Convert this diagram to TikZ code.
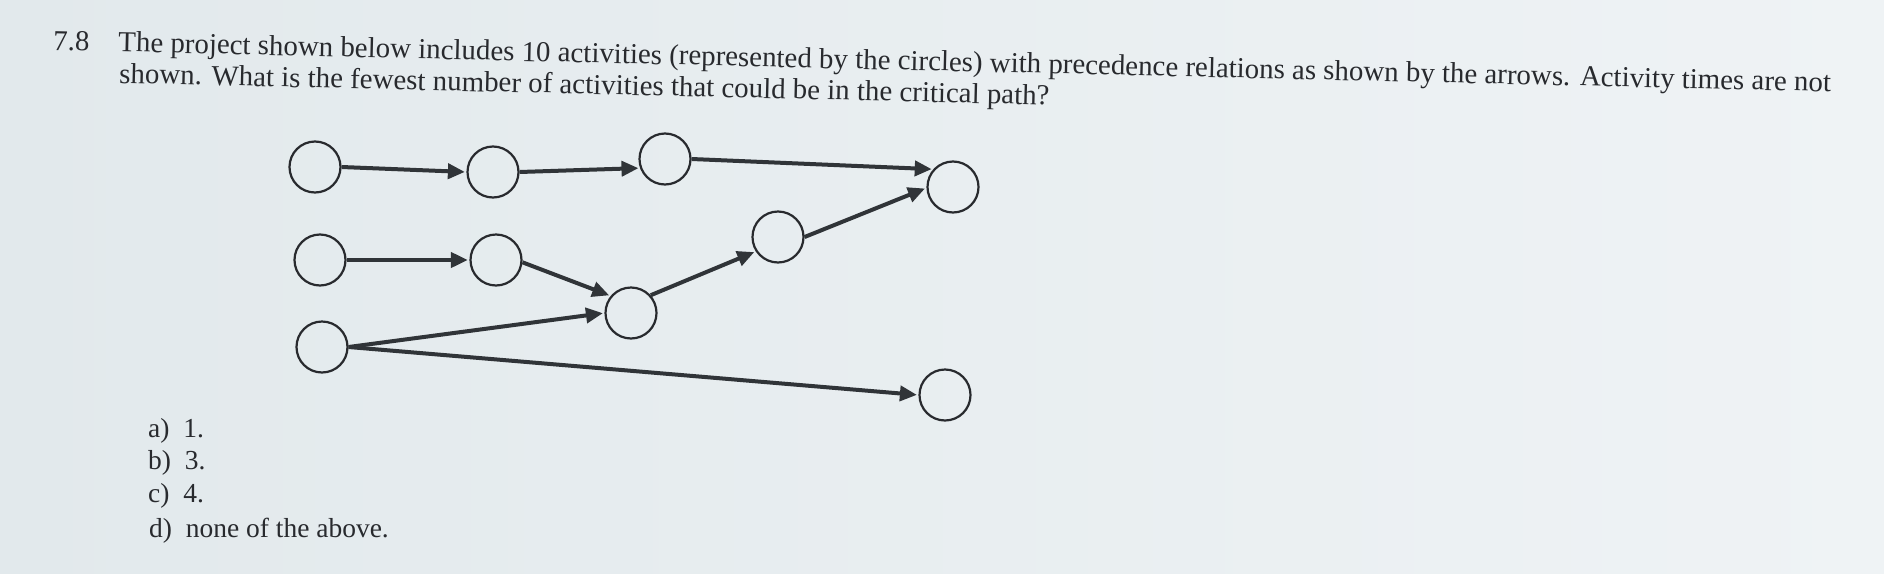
\documentclass[tikz,border=0pt]{standalone}
\usepackage{fontspec}
\setmainfont{Liberation Serif}
\usetikzlibrary{arrows.meta}
\definecolor{bgleft}{RGB}{226,233,236}
\definecolor{bgright}{RGB}{239,243,245}
\definecolor{ink}{RGB}{40,42,46}
\definecolor{lineink}{RGB}{48,52,56}
\newlength\Lone
\newlength\Ltwo
\tikzset{
  act/.style={circle, draw=ink, line width=2.2pt, minimum size=51pt, inner sep=0pt},
  arr/.style={draw=lineink, line width=4pt, -{Triangle[length=17pt,width=15pt]}, shorten >=1.5pt},
  qtext/.style={anchor=base west, inner sep=0pt, text=ink, rotate=-1.35},
  atext/.style={anchor=base west, inner sep=0pt, text=ink}
}
\begin{document}
\settowidth\Lone{\fontsize{20pt}{24pt}\selectfont The project shown below includes 10 activities (represented by the circles) with precedence relations as shown by the arrows. Activity times are not}%
\settowidth\Ltwo{\fontsize{20pt}{24pt}\selectfont none of the above.}%
\begin{tikzpicture}[x=1pt,y=-1pt]
\pgfmathsetmacro\fsq{1713/\Lone*20}
\pgfmathsetmacro\fsa{203/\Ltwo*20}
\useasboundingbox (0,0) rectangle (1884,573);
\shade[left color=bgleft, right color=bgright] (0,0) rectangle (1884,573);
% question text
\node[qtext, font=\fontsize{\fsq pt}{\fsq pt}\selectfont] (num) at (53,50) {7.8};
\node[qtext, font=\fontsize{\fsq pt}{\fsq pt}\selectfont] (q1) at (118,51.5) {The project shown below includes 10 activities (represented by the circles) with precedence relations as shown by the arrows. Activity times are not};
\node[qtext, font=\fontsize{\fsq pt}{\fsq pt}\selectfont] (q2) at (119,83) {shown. What is the fewest number of activities that could be in the critical path?};
% activities
\node[act] (A) at (315,167) {};
\node[act] (B) at (493,172) {};
\node[act] (C) at (665,159) {};
\node[act] (D) at (953,187) {};
\node[act] (E) at (320,260) {};
\node[act] (F) at (496,260) {};
\node[act] (G) at (631,313) {};
\node[act] (H) at (778,237) {};
\node[act] (I) at (322,347) {};
\node[act] (J) at (945,395) {};
% precedence arrows
\draw[arr] (A.east) -- (B.west);
\draw[arr] (B.east) -- (C.200);
\draw[arr] (C.east) -- (D.138);
\draw[arr] (E.east) -- (F.west);
\draw[arr] (F.-5) -- (G.140);
\draw[arr] (G.42) -- (H.213);
\draw[arr] (H.east) -- (D.182);
\draw[arr] (I.east) -- (G.west);
\draw[arr] (I.east) -- (J.west);
% answers
\node[atext, font=\fontsize{\fsa pt}{\fsa pt}\selectfont] (aa) at (148,437) {a)\hspace{0.5em}1.};
\node[atext, font=\fontsize{\fsa pt}{\fsa pt}\selectfont] (ab) at (148,469) {b)\hspace{0.5em}3.};
\node[atext, font=\fontsize{\fsa pt}{\fsa pt}\selectfont] (ac) at (148,502) {c)\hspace{0.5em}4.};
\node[atext, font=\fontsize{\fsa pt}{\fsa pt}\selectfont] (ad) at (149,537) {d)\hspace{0.5em}none of the above.};
\end{tikzpicture}
\end{document}
